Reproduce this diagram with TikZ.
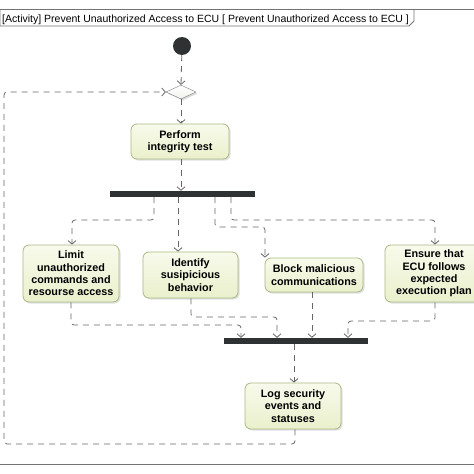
\documentclass[tikz,border=0pt]{standalone}
\usepackage{fontspec}
\setmainfont{Liberation Sans}
\usetikzlibrary{arrows.meta,shapes.geometric,shadows,calc}
\definecolor{boxfill}{HTML}{EAF0CC}
\definecolor{boxtop}{HTML}{F8FAEB}
\definecolor{boxedge}{HTML}{A9B985}
\definecolor{flowc}{HTML}{666666}
\definecolor{barc}{HTML}{2E3233}
\begin{document}
\begin{tikzpicture}[x=1pt,y=-1pt,
  action/.style={draw=boxedge, line width=0.8pt, rounded corners=6pt,
    top color=boxtop, bottom color=boxfill, align=center,
    font=\fontsize{10.8}{12.3}\selectfont\bfseries, inner sep=1pt,
    drop shadow={shadow xshift=1.5pt, shadow yshift=-1.5pt, fill=black!25}},
  flow/.style={draw=flowc, dash pattern=on 6pt off 5pt, line width=0.8pt,
    -{Straight Barb[length=3.5pt,width=8pt]}, rounded corners=3pt},
  bar/.style={fill=barc, draw=none, minimum height=6pt, inner sep=0pt},
  framec/.style={draw=black!55, line width=0.8pt}]
\useasboundingbox (0,0) rectangle (474,474);
% frame
\draw[framec] (0,9) -- (474,9);
\draw[framec] (0,464) -- (474,464);
\draw[framec] (0,9) -- (0,26) -- (409,26) -- (414,21) -- (414,9);
\node[anchor=base west, inner sep=0pt, font=\fontsize{10.5}{12}\selectfont] (title) at (2,22)
  {[Activity] Prevent Unauthorized Access to ECU [ Prevent Unauthorized Access to ECU ]};
% nodes
\node[circle, fill=barc, minimum size=18pt, inner sep=0pt] (init) at (182,46) {};
\node[diamond, draw=black!50, top color=white, bottom color=boxfill!80!black!20, minimum width=30pt, minimum height=14pt,
  inner sep=0pt, drop shadow={shadow xshift=1.5pt, shadow yshift=-1.5pt, fill=black!30}] (dec) at (181,92) {};
\node[action, minimum width=98pt, minimum height=35pt] (perf) at (180,141.5) {Perform\\integrity test};
\node[bar, minimum width=145pt] (fork) at (182.5,194) {};
\node[action, minimum width=96pt, minimum height=57pt] (limit) at (71,273.5) {Limit\\unauthorized\\commands and\\resourse access};
\node[action, minimum width=95pt, minimum height=46pt] (ident) at (190.5,275) {Identify\\susipicious\\behavior};
\node[action, minimum width=98pt, minimum height=34pt] (block) at (314,275) {Block malicious\\communications};
\node[action, minimum width=98pt, minimum height=57pt] (ensure) at (434,273.5) {Ensure that\\ECU follows\\expected\\execution plan};
\node[bar, minimum width=144pt] (join) at (296,341) {};
\node[action, minimum width=96pt, minimum height=46pt] (logn) at (293,406) {Log security\\events and\\statuses};
% flows
\draw[flow] (init) -- (dec.north);
\draw[flow] (dec.south) -- (perf.north -| dec.south);
\draw[flow] (perf.south -| dec.south) -- (fork.north -| dec.south);
\draw[flow] (fork.south -| 154,0) |- (72,220) -- (limit.north -| 72,0);
\draw[flow] (fork.south -| 178,0) -- (ident.north -| 178,0);
\draw[flow] (fork.south -| 215,0) |- (265,227) -- (block.north -| 265,0);
\draw[flow] (fork.south -| 231,0) |- (435,220) -- (ensure.north -| 435,0);
\draw[flow] (limit.south -| 71,0) |- (241,325) -- (join.north -| 241,0);
\draw[flow] (ident.south -| 191,0) |- (277,317) -- (join.north -| 277,0);
\draw[flow] (block.south -| 312,0) -- (join.north -| 312,0);
\draw[flow] (ensure.south -| 435,0) |- (348,321) -- (join.north -| 348,0);
\draw[flow] (join.south -| 294,0) -- (logn.north -| 294,0);
\draw[flow] (logn.south -| 295,0) |- (4,444) |- (dec.west);
\end{tikzpicture}
\end{document}
